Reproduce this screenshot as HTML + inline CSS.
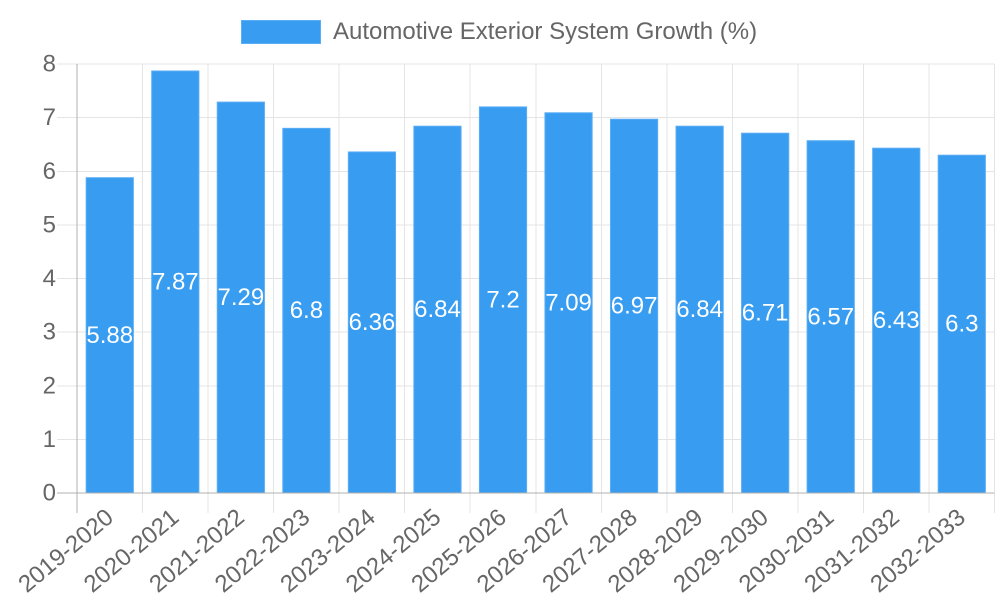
<!DOCTYPE html>
<html><head><meta charset="utf-8"><style>
html,body{margin:0;padding:0;background:#fff;}
svg{display:block;font-family:"Liberation Sans",Arial,sans-serif;}
</style></head><body>
<svg width="1000" height="600" viewBox="0 0 1000 600" xmlns="http://www.w3.org/2000/svg">
<!-- legend -->
<rect x="241.5" y="20.5" width="79" height="23" fill="#389cf0" stroke="#5aaef5" stroke-width="1"/>
<text x="333" y="39" font-size="24" fill="#666">Automotive Exterior System Growth (%)</text>
<!-- horizontal grid -->
<g stroke="#e4e4e4" stroke-width="1" shape-rendering="crispEdges">
<line x1="57" x2="994.5" y1="64" y2="64"/>
<line x1="57" x2="994.5" y1="117.6" y2="117.6"/>
<line x1="57" x2="994.5" y1="171.25" y2="171.25"/>
<line x1="57" x2="994.5" y1="224.9" y2="224.9"/>
<line x1="57" x2="994.5" y1="278.5" y2="278.5"/>
<line x1="57" x2="994.5" y1="332.1" y2="332.1"/>
<line x1="57" x2="994.5" y1="385.75" y2="385.75"/>
<line x1="57" x2="994.5" y1="439.4" y2="439.4"/>
</g>
<!-- vertical grid -->
<g stroke="#e4e4e4" stroke-width="1" shape-rendering="crispEdges">
<line x1="142.54" x2="142.54" y1="64" y2="513"/>
<line x1="208.08" x2="208.08" y1="64" y2="513"/>
<line x1="273.62" x2="273.62" y1="64" y2="513"/>
<line x1="339.16" x2="339.16" y1="64" y2="513"/>
<line x1="404.7" x2="404.7" y1="64" y2="513"/>
<line x1="470.24" x2="470.24" y1="64" y2="513"/>
<line x1="535.78" x2="535.78" y1="64" y2="513"/>
<line x1="601.32" x2="601.32" y1="64" y2="513"/>
<line x1="666.86" x2="666.86" y1="64" y2="513"/>
<line x1="732.4" x2="732.4" y1="64" y2="513"/>
<line x1="797.94" x2="797.94" y1="64" y2="513"/>
<line x1="863.48" x2="863.48" y1="64" y2="513"/>
<line x1="929.02" x2="929.02" y1="64" y2="513"/>
<line x1="994.5" x2="994.5" y1="64" y2="513"/>
</g>
<!-- bars -->
<g fill="#389cf0" stroke="#5aaef5" stroke-width="1">
<rect x="86.17" y="177.7" width="47.2" height="315.3"/>
<rect x="151.71" y="71.0" width="47.2" height="422.0"/>
<rect x="217.25" y="102.1" width="47.2" height="390.9"/>
<rect x="282.79" y="128.35" width="47.2" height="364.65"/>
<rect x="348.33" y="151.95" width="47.2" height="341.05"/>
<rect x="413.87" y="126.2" width="47.2" height="366.8"/>
<rect x="479.41" y="106.9" width="47.2" height="386.1"/>
<rect x="544.95" y="112.8" width="47.2" height="380.2"/>
<rect x="610.49" y="119.2" width="47.2" height="373.8"/>
<rect x="676.03" y="126.2" width="47.2" height="366.8"/>
<rect x="741.57" y="133.2" width="47.2" height="359.8"/>
<rect x="807.11" y="140.7" width="47.2" height="352.3"/>
<rect x="872.65" y="148.2" width="47.2" height="344.8"/>
<rect x="938.19" y="155.2" width="47.2" height="337.8"/>
</g>
<!-- axes -->
<g stroke="#b0b0b0" stroke-width="1" shape-rendering="crispEdges">
<line x1="77" x2="77" y1="64" y2="513"/>
<line x1="57" x2="994.5" y1="493" y2="493"/>
</g>
<!-- y labels -->
<g font-size="24" fill="#666" text-anchor="end" dominant-baseline="central">
<text x="56" y="64">8</text>
<text x="56" y="117.6">7</text>
<text x="56" y="171.25">6</text>
<text x="56" y="224.9">5</text>
<text x="56" y="278.5">4</text>
<text x="56" y="332.1">3</text>
<text x="56" y="385.75">2</text>
<text x="56" y="439.4">1</text>
<text x="56" y="493">0</text>
</g>
<!-- data labels -->
<g font-size="24" fill="#fff" text-anchor="middle" dominant-baseline="central">
<text x="109.77" y="335.3">5.88</text>
<text x="175.31" y="282.0">7.87</text>
<text x="240.85" y="297.5">7.29</text>
<text x="306.39" y="310.7">6.8</text>
<text x="371.93" y="322.5">6.36</text>
<text x="437.47" y="309.6">6.84</text>
<text x="503.01" y="300.0">7.2</text>
<text x="568.55" y="302.9">7.09</text>
<text x="634.09" y="306.1">6.97</text>
<text x="699.63" y="309.6">6.84</text>
<text x="765.17" y="313.1">6.71</text>
<text x="830.71" y="316.8">6.57</text>
<text x="896.25" y="320.6">6.43</text>
<text x="961.79" y="324.1">6.3</text>
</g>
<!-- x labels -->
<g font-size="24" fill="#666" text-anchor="end" dominant-baseline="central">
<text transform="translate(110,514) rotate(-40)">2019-2020</text>
<text transform="translate(175.5,514) rotate(-40)">2020-2021</text>
<text transform="translate(241,514) rotate(-40)">2021-2022</text>
<text transform="translate(306.5,514) rotate(-40)">2022-2023</text>
<text transform="translate(372,514) rotate(-40)">2023-2024</text>
<text transform="translate(437.5,514) rotate(-40)">2024-2025</text>
<text transform="translate(503,514) rotate(-40)">2025-2026</text>
<text transform="translate(568.5,514) rotate(-40)">2026-2027</text>
<text transform="translate(634,514) rotate(-40)">2027-2028</text>
<text transform="translate(699.5,514) rotate(-40)">2028-2029</text>
<text transform="translate(765,514) rotate(-40)">2029-2030</text>
<text transform="translate(830.5,514) rotate(-40)">2030-2031</text>
<text transform="translate(896,514) rotate(-40)">2031-2032</text>
<text transform="translate(962,514) rotate(-40)">2032-2033</text>
</g>
</svg>
</body></html>
